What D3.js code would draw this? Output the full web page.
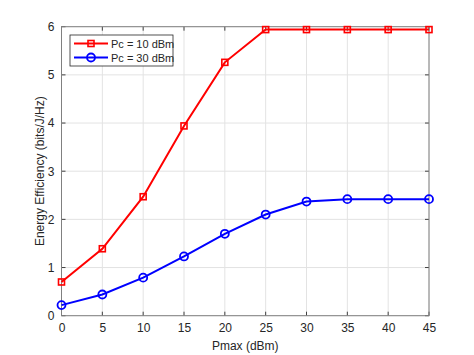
<!DOCTYPE html>
<html lang="en">
<head>
<meta charset="utf-8">
<title>Energy Efficiency vs Pmax</title>
<script src="https://d3js.org/d3.v7.min.js"></script>
<style>
  body { margin: 0; background: #fff; }
  svg text { font-family: "Liberation Sans", Arial, sans-serif; fill: #262626; }
</style>
</head>
<body>
<svg width="474" height="355"></svg>
<script>
// data
const pmax = [0, 5, 10, 15, 20, 25, 30, 35, 40, 45];
const pc10 = [0.70, 1.39, 2.47, 3.94, 5.26, 5.94, 5.94, 5.94, 5.94, 5.94];
const pc30 = [0.22, 0.44, 0.79, 1.23, 1.70, 2.10, 2.37, 2.42, 2.42, 2.42];
const xTicks = [0, 5, 10, 15, 20, 25, 30, 35, 40, 45];
const yTicks = [0, 1, 2, 3, 4, 5, 6];

const svg = d3.select('svg');
const pl = 61.5, pr = 429, pt = 26.7, pb = 315.7;

const x = d3.scaleLinear().domain([0, 45]).range([pl, pr]);
const y = d3.scaleLinear().domain([0, 6]).range([pb, pt]);

// grid
svg.append('g').selectAll('line')
  .data(xTicks).join('line')
  .attr('x1', d => x(d)).attr('x2', d => x(d))
  .attr('y1', pt).attr('y2', pb)
  .attr('stroke', '#e3e3e3').attr('stroke-width', 1);
svg.append('g').selectAll('line')
  .data(yTicks).join('line')
  .attr('x1', pl).attr('x2', pr)
  .attr('y1', d => y(d)).attr('y2', d => y(d))
  .attr('stroke', '#e3e3e3').attr('stroke-width', 1);

// axes
const xAxis = d3.axisBottom(x).tickValues(xTicks).tickFormat(d3.format('d')).tickSize(0).tickPadding(8);
const yAxis = d3.axisLeft(y).tickValues(yTicks).tickFormat(d3.format('d')).tickSize(0).tickPadding(7);
const gx = svg.append('g').attr('transform', `translate(0,${pb})`).call(xAxis);
const gy = svg.append('g').attr('transform', `translate(${pl},0)`).call(yAxis);
[gx, gy].forEach(g => {
  g.select('.domain').remove();
  g.selectAll('text').style('font-size', '12px').attr('fill', '#262626');
});

// inner ticks
svg.append('g').selectAll('line')
  .data(xTicks).join('line')
  .attr('x1', d => x(d)).attr('x2', d => x(d))
  .attr('y1', pb).attr('y2', pb - 4)
  .attr('stroke', '#404040');
svg.append('g').selectAll('line')
  .data(xTicks).join('line')
  .attr('x1', d => x(d)).attr('x2', d => x(d))
  .attr('y1', pt).attr('y2', pt + 4)
  .attr('stroke', '#404040');
svg.append('g').selectAll('line')
  .data(yTicks).join('line')
  .attr('x1', pl).attr('x2', pl + 4)
  .attr('y1', d => y(d)).attr('y2', d => y(d))
  .attr('stroke', '#404040');
svg.append('g').selectAll('line')
  .data(yTicks).join('line')
  .attr('x1', pr).attr('x2', pr - 4)
  .attr('y1', d => y(d)).attr('y2', d => y(d))
  .attr('stroke', '#404040');

// box
svg.append('rect')
  .attr('x', pl).attr('y', pt)
  .attr('width', pr - pl).attr('height', pb - pt)
  .attr('fill', 'none').attr('stroke', '#808080').attr('stroke-width', 1);

// axis titles
svg.append('text')
  .attr('x', (pl + pr) / 2).attr('y', 350)
  .attr('text-anchor', 'middle').style('font-size', '12px')
  .text('Pmax (dBm)');
svg.append('text')
  .attr('transform', `translate(44,${(pt + pb) / 2}) rotate(-90)`)
  .attr('text-anchor', 'middle').style('font-size', '12px')
  .text('Energy Efficiency (bits/J/Hz)');

// series
const line = d3.line().x(d => x(d[0])).y(d => y(d[1]));
const redPts = pmax.map((p, i) => [p, pc10[i]]);
const bluePts = pmax.map((p, i) => [p, pc30[i]]);

svg.append('path').datum(redPts)
  .attr('d', line).attr('fill', 'none')
  .attr('stroke', '#ff0000').attr('stroke-width', 2);
svg.append('g').selectAll('rect')
  .data(redPts).join('rect')
  .attr('x', d => x(d[0]) - 3).attr('y', d => y(d[1]) - 3)
  .attr('width', 6).attr('height', 6)
  .attr('fill', 'none').attr('stroke', '#ff0000').attr('stroke-width', 1.6);

svg.append('path').datum(bluePts)
  .attr('d', line).attr('fill', 'none')
  .attr('stroke', '#0000ff').attr('stroke-width', 2);
svg.append('g').selectAll('circle')
  .data(bluePts).join('circle')
  .attr('cx', d => x(d[0])).attr('cy', d => y(d[1]))
  .attr('r', 4)
  .attr('fill', 'none').attr('stroke', '#0000ff').attr('stroke-width', 1.8);

// legend
const lg = svg.append('g');
lg.append('rect')
  .attr('x', 70).attr('y', 35).attr('width', 103).attr('height', 31)
  .attr('fill', '#fff').attr('stroke', '#262626').attr('stroke-width', 0.8);
const legendItems = [
  { label: 'Pc = 10 dBm', color: '#ff0000', marker: 'square', cy: 43.5 },
  { label: 'Pc = 30 dBm', color: '#0000ff', marker: 'circle', cy: 57.5 }
];
legendItems.forEach(it => {
  lg.append('line')
    .attr('x1', 74).attr('x2', 108).attr('y1', it.cy).attr('y2', it.cy)
    .attr('stroke', it.color).attr('stroke-width', 2);
  if (it.marker === 'square') {
    lg.append('rect')
      .attr('x', 91 - 3).attr('y', it.cy - 3).attr('width', 6).attr('height', 6)
      .attr('fill', 'none').attr('stroke', it.color).attr('stroke-width', 1.6);
  } else {
    lg.append('circle')
      .attr('cx', 91).attr('cy', it.cy).attr('r', 4)
      .attr('fill', 'none').attr('stroke', it.color).attr('stroke-width', 1.8);
  }
  lg.append('text')
    .attr('x', 111).attr('y', it.cy + 4)
    .style('font-size', '11px')
    .text(it.label);
});
</script>
</body>
</html>
